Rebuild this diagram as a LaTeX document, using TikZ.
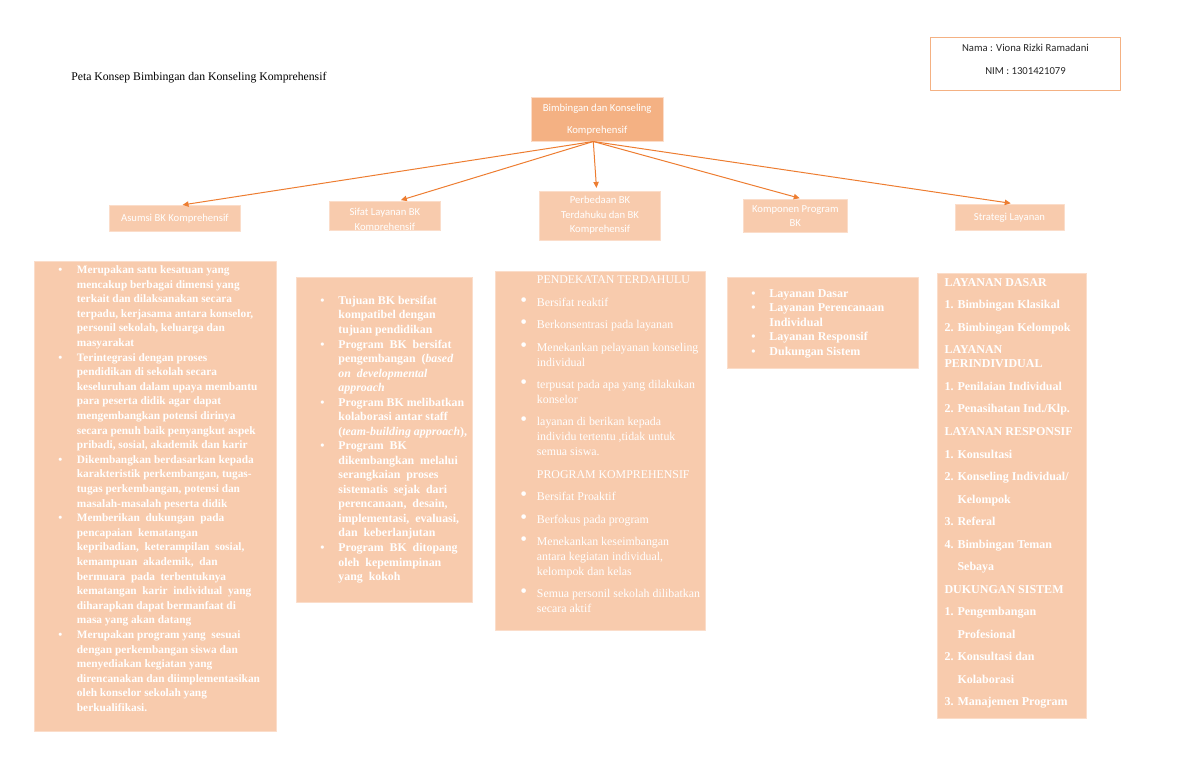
\documentclass[tikz,border=0pt]{standalone}
\usepackage{fontspec}
\setmainfont{Liberation Serif}
\newfontfamily\calibri{Carlito}
\usepackage{tikz}
\usetikzlibrary{arrows.meta,fit}
\definecolor{peach}{HTML}{F8CBAD}
\definecolor{peachdark}{HTML}{F4B183}
\definecolor{peachline}{HTML}{FBDDCA}
\definecolor{orangeline}{HTML}{ED7D31}
\definecolor{inkgray}{HTML}{262626}
\tikzset{
  every picture/.style={
    line join=round,
    line cap=round,
  },
  rootbox/.style={fill=peachdark, draw=peachline, line width=0.6pt, inner sep=0pt,
    text=white, align=center, font=\calibri\fontsize{8}{16.5}\selectfont},
  headbox/.style={fill=peach, draw=peachline, line width=0.6pt, inner sep=0pt,
    text=white, align=center, font=\calibri\fontsize{8}{10.8}\selectfont},
  listbox/.style={fill=peach, draw=peachline, line width=0.6pt, inner sep=0pt},
  listtext/.style={anchor=base west, inner sep=0pt, text=white},
  link/.style={->, orangeline, line width=0.75pt, shorten >=2pt},
}
\newcommand{\bigbullet}{{\fontsize{14.5}{13}\selectfont\textbullet}}

\begin{document}
\begin{tikzpicture}[x=0.75pt, y=-0.75pt, >={Triangle[length=4.5pt,width=4pt]}]
    \useasboundingbox (0,0) rectangle (1200,776);

    % Title and name
    \node[anchor=base west, inner sep=0pt, font=\fontsize{8.8}{11}\selectfont] (title) at (71,80.5)
        {Peta Konsep Bimbingan dan Konseling Komprehensif};
    \node[draw=peachdark, line width=0.75pt, inner sep=0pt, fit={(930.7,37.3) (1120,90)}] (namebox) {};
    \node[align=center, text=inkgray, font=\calibri\fontsize{8}{16.8}\selectfont] (nametext) at (1025.5,59.5)
        {Nama : Viona Rizki Ramadani\\NIM : 1301421079};

    % Root
    \node[rootbox, minimum width=99.2pt, minimum height=33.3pt] (root) at (597.2,119.5)
        {Bimbingan dan Konseling\\Komprehensif};
    \coordinate (hub) at (593.3,141.5);

    % Second level
    \node[headbox, minimum width=98.8pt, minimum height=19pt] (asumsi) at (174.9,218.4) {Asumsi BK Komprehensif};
    \node[headbox, minimum width=83.8pt, minimum height=22pt] (sifat) at (384.9,216) {};
    \begin{scope}
        \clip (sifat.north west) rectangle ([yshift=1.5pt]sifat.south east);
        \node[headbox, fill=none, draw=none] (sifattext) at (384.9,220) {Sifat Layanan BK\\Komprehensif};
    \end{scope}
    \node[headbox, minimum width=91pt, minimum height=36.8pt] (beda) at (600,215.5)
        {Perbedaan BK\\Terdahuku dan BK\\Komprehensif};
    \node[headbox, minimum width=78pt, minimum height=25pt] (komponen) at (795.3,216) {Komponen Program\\BK};
    \node[headbox, minimum width=81.8pt, minimum height=20pt] (strategi) at (1009.5,217.4) {Strategi Layanan};

    % Arrows
    \foreach \n/\dx in {asumsi/3.75pt, sifat/10pt, beda/-2.5pt, komponen/5.25pt, strategi/2.9pt}
        \draw[link] (hub) -- ([xshift=\dx]\n.north);

    % Third level boxes
    \node[listbox, fit={(34,261) (276,731)}] (asumsilist) {};
    \node[listbox, fit={(296,277) (472.5,602)}] (sifatlist) {};
    \node[listbox, fit={(495,271) (705,630)}] (bedalist) {};
    \node[listbox, fit={(727,277) (918,368.5)}] (komponenlist) {};
    \node[listbox, fit={(937,273) (1086.5,718)}] (strategilist) {};

    % Asumsi
    \node[listtext, font=\bfseries\fontsize{8.5}{10.95}\selectfont] (asumsitext) at (58,273.4) {%
    \begin{tabular}[t]{@{}p{14pt}@{}l@{}}
    \textbullet & Merupakan satu kesatuan yang\\
     & mencakup berbagai dimensi yang\\
     & terkait dan dilaksanakan secara\\
     & terpadu, kerjasama antara konselor,\\
     & personil sekolah, keluarga dan\\
     & masyarakat\\
    \textbullet & Terintegrasi dengan proses\\
     & pendidikan di sekolah secara\\
     & keseluruhan dalam upaya membantu\\
     & para peserta didik agar dapat\\
     & mengembangkan potensi dirinya\\
     & secara penuh baik penyangkut aspek\\
     & pribadi, sosial, akademik dan karir\\
    \textbullet & Dikembangkan berdasarkan kepada\\
     & karakteristik perkembangan, tugas-\\
     & tugas perkembangan, potensi dan\\
     & masalah-masalah peserta didik\\
    \textbullet & Memberikan~ dukungan~ pada\\
     & pencapaian~ kematangan\\
     & kepribadian,~ keterampilan~ sosial,\\
     & kemampuan~ akademik,~ dan\\
     & bermuara~ pada~ terbentuknya\\
     & kematangan~ karir~ individual~ yang\\
     & diharapkan dapat bermanfaat di\\
     & masa yang akan datang\\
    \textbullet & Merupakan program yang~ sesuai\\
     & dengan perkembangan siswa dan\\
     & menyediakan kegiatan yang\\
     & direncanakan dan diimplementasikan\\
     & oleh konselor sekolah yang\\
     & berkualifikasi.
    \end{tabular}};

    % Sifat
    \node[listtext, font=\bfseries\fontsize{8.9}{10.9}\selectfont] (sifatitems) at (320.2,304.4) {%
    \begin{tabular}[t]{@{}p{13.5pt}@{}l@{}}
    \textbullet & Tujuan BK bersifat\\
     & kompatibel dengan\\
     & tujuan pendidikan\\
    \textbullet & Program~ BK~ bersifat\\
     & pengembangan~ (\textit{based}\\
     & \textit{on~ developmental}\\
     & \textit{approach}\\
    \textbullet & Program BK melibatkan\\
     & kolaborasi antar staff\\
     & (\textit{team-building approach}),\\
    \textbullet & Program~ BK\\
     & dikembangkan~ melalui\\
     & serangkaian~ proses\\
     & sistematis~ sejak~ dari\\
     & perencanaan,~ desain,\\
     & implementasi,~ evaluasi,\\
     & dan~ keberlanjutan\\
    \textbullet & Program~ BK~ ditopang\\
     & oleh~ kepemimpinan\\
     & yang~ kokoh
    \end{tabular}};

    % Perbedaan
    \node[listtext, font=\fontsize{8.9}{11.1}\selectfont] (bedaitems) at (520,283.7) {%
    \begin{tabular}[t]{@{}p{12.5pt}@{}l@{}}
     & PENDEKATAN TERDAHULU\\[5.8pt]
    \bigbullet & Bersifat reaktif\\[5.8pt]
    \bigbullet & Berkonsentrasi pada layanan\\[5.8pt]
    \bigbullet & Menekankan pelayanan konseling\\
     & individual\\[5.8pt]
    \bigbullet & terpusat pada apa yang dilakukan\\
     & konselor\\[5.8pt]
    \bigbullet & layanan di berikan kepada\\
     & individu tertentu ,tidak untuk\\
     & semua siswa.\\[5.8pt]
     & PROGRAM KOMPREHENSIF\\[5.8pt]
    \bigbullet & Bersifat Proaktif\\[5.8pt]
    \bigbullet & Berfokus pada program\\[5.8pt]
    \bigbullet & Menekankan keseimbangan\\
     & antara kegiatan individual,\\
     & kelompok dan kelas\\[5.8pt]
    \bigbullet & Semua personil sekolah dilibatkan\\
     & secara aktif
    \end{tabular}};

    % Komponen
    \node[listtext, font=\bfseries\fontsize{9}{10.95}\selectfont] (komponenitems) at (751.2,297) {%
    \begin{tabular}[t]{@{}p{13.5pt}@{}l@{}}
    \textbullet & Layanan Dasar\\
    \textbullet & Layanan Perencanaan\\
     & Individual\\
    \textbullet & Layanan Responsif\\
    \textbullet & Dukungan Sistem
    \end{tabular}};

    % Strategi
    \node[listtext, font=\bfseries\fontsize{9}{10.7}\selectfont] (strategiitems) at (944.3,286) {%
    \begin{tabular}[t]{@{}l@{}}
    LAYANAN DASAR\\[6.2pt]
    1. Bimbingan Klasikal\\[6.2pt]
    2. Bimbingan Kelompok\\[6.2pt]
    LAYANAN\\
    PERINDIVIDUAL\\[6.2pt]
    1. Penilaian Individual\\[6.2pt]
    2. Penasihatan Ind./Klp.\\[6.2pt]
    LAYANAN RESPONSIF\\[6.2pt]
    1. Konsultasi\\[6.2pt]
    2. Konseling Individual/\\[6.2pt]
    \phantom{2. }Kelompok\\[6.2pt]
    3. Referal\\[6.2pt]
    4. Bimbingan Teman\\[6.2pt]
    \phantom{4. }Sebaya\\[6.2pt]
    DUKUNGAN SISTEM\\[6.2pt]
    1. Pengembangan\\[6.2pt]
    \phantom{1. }Profesional\\[6.2pt]
    2. Konsultasi dan\\[6.2pt]
    \phantom{2. }Kolaborasi\\[6.2pt]
    3. Manajemen Program
    \end{tabular}};
\end{tikzpicture}
\end{document}
